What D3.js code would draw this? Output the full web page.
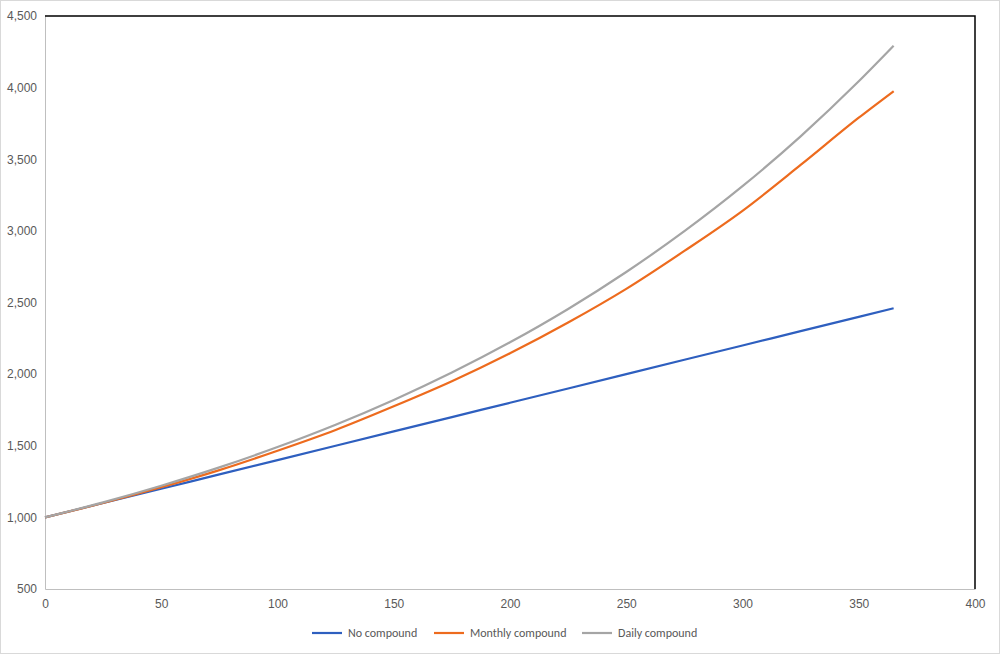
<!DOCTYPE html>
<html><head><meta charset="utf-8">
<script src="https://cdn.jsdelivr.net/npm/d3@7"></script>
<style>body{margin:0;background:#fff;font-family:Calibri,Carlito,"Liberation Sans",sans-serif}</style>
</head><body>
<script>
// values
var days = [0,25,50,75,100,125,150,175,200,225,250,275,300,325,350,365];
var noCompound = [1000,1100,1200,1300,1400,1500,1600,1700,1800,1900,2000,2100,2200,2300,2400,2460];
var monthly = [1000,1100,1210,1330,1465,1610,1775,1950,2145,2360,2595,2860,3140,3460,3790,3975];
var daily = [1000,1105,1221,1349,1491,1647,1820,2011,2222,2455,2713,2998,3312,3660,4044,4292];
var seriesNames = ["No compound","Monthly compound","Daily compound"];
var colors = ["#2e5fbf","#ed6b1e","#a5a5a5"];
var xTicks = [0,50,100,150,200,250,300,350,400];
var yTicks = [500,1000,1500,2000,2500,3000,3500,4000,4500];

var w = 1000, h = 654;
var svg = d3.select("body").append("svg").attr("width", w).attr("height", h);
svg.append("rect").attr("x",0.5).attr("y",0.5).attr("width",w-1).attr("height",h-1)
   .attr("fill","#fff").attr("stroke","#d9d9d9");

var x = d3.scaleLinear().domain([0,400]).range([45,975]);
var y = d3.scaleLinear().domain([500,4500]).range([589,16]);

var gx = svg.append("g").attr("transform","translate(0,589)")
  .call(d3.axisBottom(x).tickValues(xTicks).tickSize(0).tickPadding(10));
var gy = svg.append("g").attr("transform","translate(45,0)")
  .call(d3.axisLeft(y).tickValues(yTicks).tickSize(0).tickPadding(8));
[gx,gy].forEach(function(g){
  g.select(".domain").attr("stroke","#bfbfbf");
  g.selectAll("text").attr("fill","#595959").style("font-size","12px");
});
// black top and right frame
svg.append("path").attr("d","M45,16H975V589").attr("fill","none").attr("stroke","#000").attr("stroke-width",1.5);

var all = [noCompound, monthly, daily];
var line = d3.line().x(function(d){return x(d[0]);}).y(function(d){return y(d[1]);}).curve(d3.curveMonotoneX);
all.forEach(function(vals,i){
  svg.append("path").datum(days.map(function(d,j){return [d, vals[j]];}))
    .attr("d", line).attr("fill","none").attr("stroke",colors[i]).attr("stroke-width",2.2);
});

var lx = [312, 434, 582];
seriesNames.forEach(function(n,i){
  svg.append("line").attr("x1",lx[i]).attr("x2",lx[i]+30).attr("y1",633).attr("y2",633)
    .attr("stroke",colors[i]).attr("stroke-width",2.2);
  svg.append("text").attr("x",lx[i]+36).attr("y",637).text(n)
    .attr("fill","#595959").style("font-size","12px");
});
</script>
</body></html>
